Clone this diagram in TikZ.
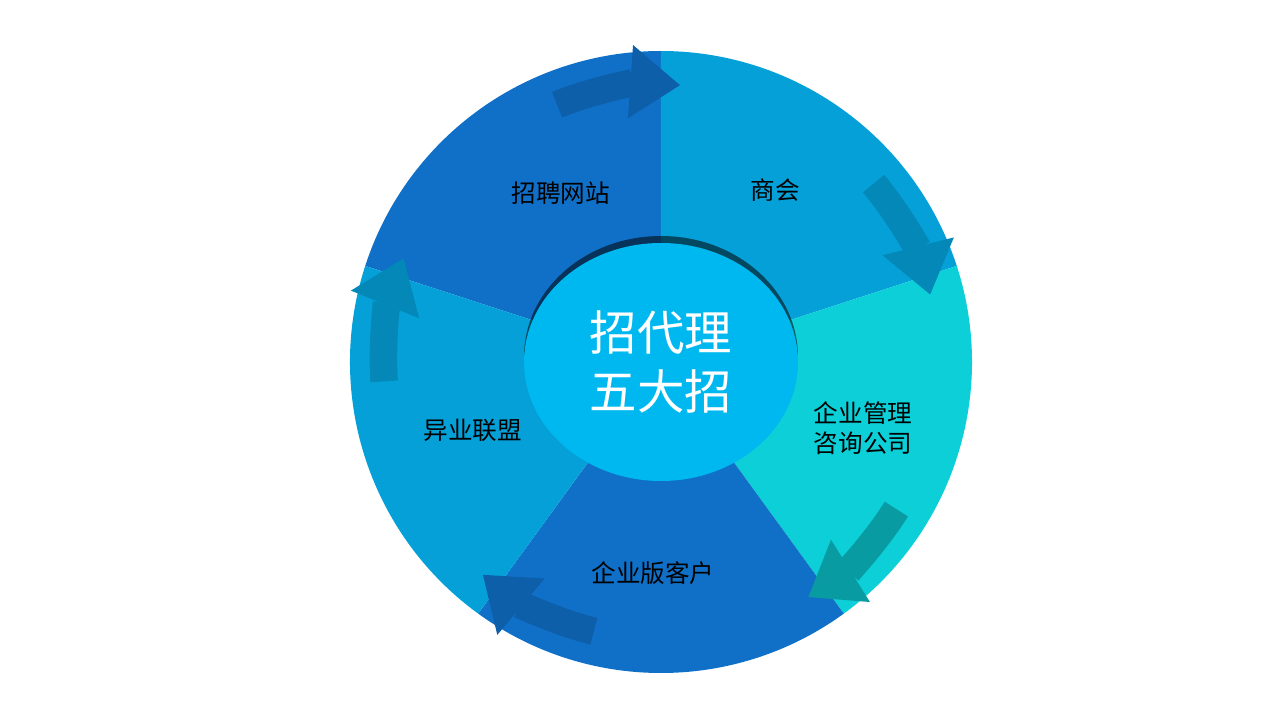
\documentclass[tikz,border=0pt]{standalone}
\usepackage{fontspec}
\setmainfont{Noto Sans CJK SC}
\usetikzlibrary{arrows.meta}
\definecolor{deepblue}{HTML}{1070C8}
\definecolor{midblue}{HTML}{05A0D8}
\definecolor{cyanblue}{HTML}{0CCFD8}
\definecolor{hubblue}{HTML}{00B8F0}
\tikzset{
  sector/.style={draw=white, line width=0.4pt},
  label/.style={font=\fontsize{14}{17}\selectfont, align=center, text=black},
  turn/.style={line width=0.55cm, -{Triangle[width=1.4cm,length=1cm]}}
}
\begin{document}
\begin{tikzpicture}
  \useasboundingbox (-13.22,-7.16) rectangle (12.38,7.24);

  % sectors of the wheel
  \fill[deepblue] (0,0) -- (90:6.22) arc (90:162:6.22) -- cycle;
  \fill[midblue] (0,0) -- (18:6.22) arc (18:90:6.22) -- cycle;
  \fill[cyanblue] (0,0) -- (-54:6.22) arc (-54:18:6.22) -- cycle;
  \fill[deepblue] (0,0) -- (-126:6.22) arc (-126:-54:6.22) -- cycle;
  \fill[midblue] (0,0) -- (162:6.22) arc (162:234:6.22) -- cycle;

  % curved arrows between sectors
  \foreach \a/\c in {0/deepblue!85!black, -72/midblue!85!black, -144/cyanblue!75!black,
                     -216/deepblue!85!black, -288/midblue!85!black}{
    \draw[turn, \c] (112+\a:5.55) arc (112+\a:86+\a:5.55);
  }

  % hub
  \fill[black, opacity=0.55] (0,0.1) ellipse (2.74 and 2.42);
  \fill[hubblue] (0,0) ellipse (2.74 and 2.38);
  \node[font=\fontsize{27}{34}\selectfont, text=white, align=center] (hub) at (0,0) {招代理\\五大招};

  % labels
  \node[label] (site) at (-2.0,3.38) {招聘网站};
  \node[label] (chamber) at (2.28,3.44) {商会};
  \node[label] (consult) at (4.04,-1.32) {企业管理\\咨询公司};
  \node[label] (client) at (-0.16,-4.22) {企业版客户};
  \node[label] (alliance) at (-3.76,-1.36) {异业联盟};
\end{tikzpicture}
\end{document}
